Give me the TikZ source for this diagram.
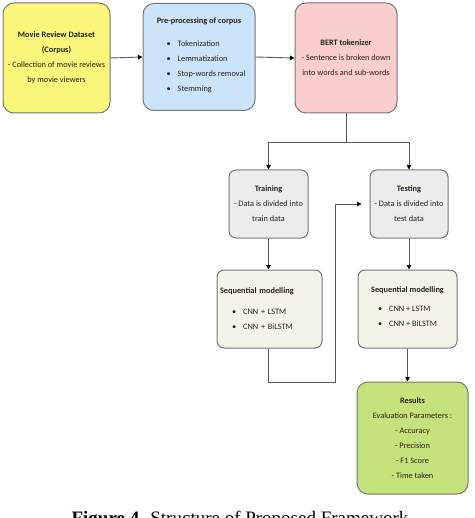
\documentclass[tikz,border=0pt]{standalone}
\usepackage{fontspec}
\setmainfont{Carlito}
\newfontfamily\capfont{Liberation Serif}
\usetikzlibrary{arrows.meta,calc}
\definecolor{corpusfill}{RGB}{250,246,122}
\definecolor{prepfill}{RGB}{204,228,250}
\definecolor{bertfill}{RGB}{250,206,206}
\definecolor{splitfill}{RGB}{236,236,236}
\definecolor{seqfill}{RGB}{245,243,232}
\definecolor{resfill}{RGB}{198,226,124}
\definecolor{edge}{RGB}{118,118,118}
\definecolor{ink}{RGB}{40,34,26}
\begin{document}
\begin{tikzpicture}[x=1pt,y=-1pt,
    box/.style={draw=edge, line width=1pt, rounded corners=11pt, text=ink,
      inner sep=2pt, font=\fontsize{8.3}{15}\selectfont},
    smallbox/.style={box, rounded corners=7pt},
    link/.style={draw=black!65, line width=0.9pt},
    flow/.style={link, -{Triangle[length=4.5pt,width=4.5pt,black]}}]
      \useasboundingbox (0,0) rectangle (474,518);
      % top row
      \node[box, fill=corpusfill, minimum width=107, minimum height=110, align=center] (corpus) at (56.5,58)
        {\textbf{Movie Review Dataset}\\\textbf{(Corpus)}\\- Collection of movie reviews\\by movie viewers};
      \node[box, fill=prepfill, minimum width=112, minimum height=107, align=center] (prep) at (199,57)
        {\textbf{Pre-processing of corpus}\\[10pt]
         \hspace*{14pt}\begin{tabular}{@{}l@{}}
           \textbullet\hspace{7pt}Tokenization\\
           \textbullet\hspace{7pt}Lemmatization\\
           \textbullet\hspace{7pt}Stop-words removal\\
           \textbullet\hspace{7pt}Stemming
         \end{tabular}};
      \node[box, fill=bertfill, minimum width=102, minimum height=110, align=center] (bert) at (346,58)
        {\textbf{BERT tokenizer}\\- Sentence is broken down\\into words and sub-words};
      % train / test
      \node[smallbox, fill=splitfill, minimum width=79, minimum height=68, align=center] (train) at (268.5,204)
        {\textbf{Training}\\- Data is divided into\\train data};
      \node[smallbox, fill=splitfill, minimum width=78, minimum height=68, align=center] (test) at (409,204)
        {\textbf{Testing}\\- Data is divided into\\test data};
      % modelling
      \node[smallbox, fill=seqfill, minimum width=105, minimum height=78, text width=99pt, align=left] (seqA) at (269.5,309)
        {\textbf{Sequential modelling}\\[6pt]
         \hspace*{12pt}\textbullet\hspace{7pt}CNN + LSTM\\
         \hspace*{12pt}\textbullet\hspace{7pt}CNN + BiLSTM};
      \node[smallbox, fill=seqfill, minimum width=99, minimum height=78, align=center] (seqB) at (407.5,309)
        {\textbf{Sequential modelling}\\[6pt]
         \begin{tabular}{@{}l@{}}
           \textbullet\hspace{7pt}CNN + LSTM\\
           \textbullet\hspace{7pt}CNN + BiLSTM
         \end{tabular}};
      \node[box, fill=resfill, minimum width=111, minimum height=112, align=center] (res) at (412.5,438)
        {\textbf{Results}\\Evaluation Parameters :\\- Accuracy\\- Precision\\- F1 Score\\- Time taken};
      % caption, cut by the page edge
      \node[font=\capfont\fontsize{19}{19}\selectfont, anchor=base] (cap) at (240,524.5)
        {\textbf{Figure 4.} Structure of Proposed Framework};
      % connectors
      \coordinate (split) at (346,142);
      \coordinate (loop) at (335,382);
      \draw[flow] (corpus.east) -- (prep.west);
      \draw[flow] (prep.east) -- (bert.west);
      \draw[link] (bert.south) -- (split);
      \draw[flow] (split) -| (train.north);
      \draw[flow] (split) -| (test.north);
      \draw[flow] (train.south) -- (train.south |- seqA.north);
      \draw[flow] (test.south) -- (test.south |- seqB.north);
      \draw[flow] (train.south |- seqA.south) |- (loop) |- ($(test.west)+(-8,0)$);
      \draw[flow] (seqB.south) -- (seqB.south |- res.north);
\end{tikzpicture}
\end{document}
